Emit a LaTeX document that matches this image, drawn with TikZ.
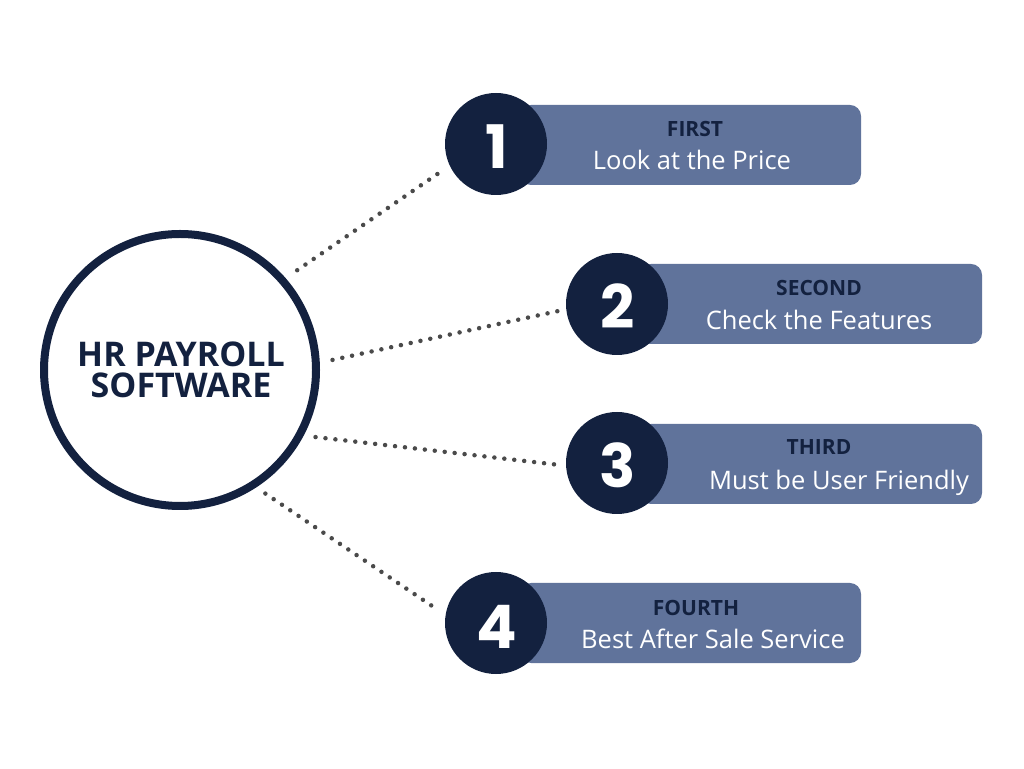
\documentclass[tikz,border=0pt]{standalone}
\usepackage{fontspec}
\setmainfont{Open Sans}
\newfontfamily\numfont{Poppins}
\definecolor{navy}{HTML}{13213F}
\definecolor{slate}{HTML}{60739B}
\definecolor{dotgray}{HTML}{4A4A4A}
\begin{document}
\begin{tikzpicture}[x=1pt,y=1pt,
  hubstyle/.style={circle,draw=navy,line width=8pt,fill=white,minimum size=272pt,inner sep=0pt},
  numstyle/.style={circle,fill=navy,minimum size=102pt,inner sep=0pt},
  boxstyle/.style={fill=slate,rounded corners=11pt},
  numtext/.style={text=white,font=\numfont\bfseries\fontsize{60}{60}\selectfont,anchor=base},
  headtext/.style={text=navy,font=\bfseries\fontsize{21}{21}\selectfont,anchor=base},
  subtext/.style={text=white,font=\fontsize{25.5}{26}\selectfont,anchor=base},
  titletext/.style={text=navy,font=\bfseries\fontsize{34}{34}\selectfont,anchor=base},
  dotline/.style={draw=dotgray,line width=4.5pt,line cap=round,dash pattern=on 0pt off 10pt}
]
\useasboundingbox (0,0) rectangle (1024,768);
% boxes
\fill[boxstyle] (520,583) rectangle (861,663);
\fill[boxstyle] (640,424) rectangle (982,504);
\fill[boxstyle] (640,264) rectangle (982,344);
\fill[boxstyle] (520,105) rectangle (861,185);
% circles
\node[hubstyle] (hub) at (180,398) {};
\node[numstyle] (n1) at (496,624) {};
\node[numstyle] (n2) at (617,464) {};
\node[numstyle] (n3) at (617,305) {};
\node[numstyle] (n4) at (496,145) {};
% numbers
\node[numtext] (t1) at (497,599) {1};
\node[numtext] (t2) at (618,439) {2};
\node[numtext] (t3) at (618,280) {3};
\node[numtext] (t4) at (497,120) {4};
% title
\node[titletext] (h1) at (181,401) {HR PAYROLL};
\node[titletext] (h2) at (181,370) {SOFTWARE};
% box texts
\node[headtext] (a1) at (695,631) {FIRST};
\node[subtext] (b1) at (692,598) {Look at the Price};
\node[headtext] (a2) at (819,472) {SECOND};
\node[subtext] (b2) at (819,438) {Check the Features};
\node[headtext] (a3) at (819,313) {THIRD};
\node[subtext] (b3) at (839,278) {Must be User Friendly};
\node[headtext] (a4) at (696,153) {FOURTH};
\node[subtext] (b4) at (713,120) {Best After Sale Service};
% connectors
\draw[dotline,shorten <=14pt,shorten >=13pt] (hub.41.6) -- (n1.205);
\draw[dotline,shorten <=13pt,shorten >=8pt] (hub.3.4) -- (n2.186);
\draw[dotline,shorten <=12pt,shorten >=3pt] (hub.-28.8) -- (n3.183);
\draw[dotline,shorten <=11pt,shorten >=8pt] (hub.-57) -- (n4.171);
\end{tikzpicture}
\end{document}
